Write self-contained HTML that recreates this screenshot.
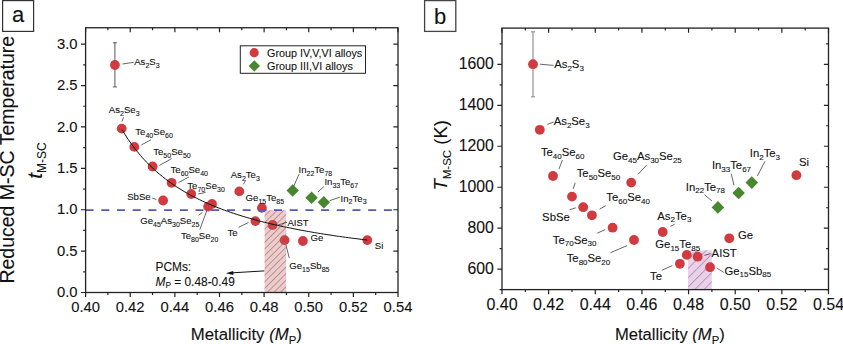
<!DOCTYPE html><html><head><meta charset="utf-8"><style>html,body{margin:0;padding:0;background:#fff;width:843px;height:344px;overflow:hidden}svg{display:block;font-family:"Liberation Sans",sans-serif}text{fill:#111;stroke:#111;stroke-width:0.1px}</style></head><body>
<svg width="843" height="344" viewBox="0 0 843 344">
<defs><pattern id="ha" patternUnits="userSpaceOnUse" width="4.65" height="4.65" patternTransform="rotate(45)"><line x1="0.5" y1="0" x2="0.5" y2="4.65" stroke="#857070" stroke-width="0.6"/></pattern><pattern id="hb" patternUnits="userSpaceOnUse" width="6.5" height="6.5" patternTransform="rotate(45)"><line x1="0.5" y1="0" x2="0.5" y2="6.5" stroke="#9a88aa" stroke-width="0.7"/></pattern></defs>
<rect x="2.6" y="0.6" width="31" height="30.8" fill="#fff" stroke="#333" stroke-width="1.2"/>
<text x="18" y="22" font-size="22" text-anchor="middle">a</text>
<line x1="114.9" y1="42.8" x2="114.9" y2="86.9" stroke="#666" stroke-width="1.1"/>
<line x1="112.9" y1="42.8" x2="116.9" y2="42.8" stroke="#666" stroke-width="1.1"/>
<line x1="112.9" y1="86.9" x2="116.9" y2="86.9" stroke="#666" stroke-width="1.1"/>
<rect x="264.6" y="210.2" width="21.6" height="82.30000000000001" fill="#f0cbcb"/>
<circle cx="114.9" cy="65" r="4.9" fill="#d13b3f"/>
<circle cx="121.7" cy="128.6" r="4.9" fill="#d13b3f"/>
<circle cx="134.3" cy="146.9" r="4.9" fill="#d13b3f"/>
<circle cx="152.6" cy="166.5" r="4.9" fill="#d13b3f"/>
<circle cx="171.6" cy="182.8" r="4.9" fill="#d13b3f"/>
<circle cx="191.2" cy="194" r="4.9" fill="#d13b3f"/>
<circle cx="163.1" cy="200.5" r="4.9" fill="#d13b3f"/>
<circle cx="212" cy="204" r="4.9" fill="#d13b3f"/>
<circle cx="208.1" cy="206.6" r="4.9" fill="#d13b3f"/>
<circle cx="239.3" cy="191.4" r="4.9" fill="#d13b3f"/>
<circle cx="261.9" cy="207.9" r="4.9" fill="#d13b3f"/>
<circle cx="255.4" cy="221.1" r="4.9" fill="#d13b3f"/>
<circle cx="272.6" cy="225" r="4.9" fill="#d13b3f"/>
<circle cx="284.6" cy="240.1" r="4.9" fill="#d13b3f"/>
<circle cx="302.9" cy="241" r="4.9" fill="#d13b3f"/>
<circle cx="367.3" cy="240.1" r="4.9" fill="#d13b3f"/>
<path d="M292.7 184.3L298.9 190.5L292.7 196.7L286.5 190.5Z" fill="#488730"/>
<path d="M311.6 191.60000000000002L317.8 197.8L311.6 204.0L305.40000000000003 197.8Z" fill="#488730"/>
<path d="M323.8 196.0L330.0 202.2L323.8 208.39999999999998L317.6 202.2Z" fill="#488730"/>
<rect x="264.6" y="210.2" width="21.6" height="82.30000000000001" fill="url(#ha)"/>
<polyline points="122.0,129.6 125.1,134.7 128.2,139.4 131.3,143.8 134.4,148.0 137.5,151.9 140.6,155.6 143.7,159.1 146.8,162.4 149.9,165.5 153.1,168.5 156.2,171.3 159.3,174.0 162.4,176.5 165.5,179.0 168.6,181.3 171.7,183.5 174.8,185.6 177.9,187.7 181.0,189.6 184.1,191.5 187.2,193.2 190.3,195.0 193.4,196.6 196.5,198.2 199.6,199.7 202.7,201.2 205.8,202.6 208.9,204.0 212.0,205.3 215.2,206.6 218.3,207.8 221.4,209.0 224.5,210.2 227.6,211.3 230.7,212.4 233.8,213.4 236.9,214.4 240.0,215.4 243.1,216.4 246.2,217.3 249.3,218.2 252.4,219.1 255.5,219.9 258.6,220.8 261.7,221.6 264.8,222.3 267.9,223.1 271.0,223.9 274.1,224.6 277.3,225.3 280.4,226.0 283.5,226.7 286.6,227.3 289.7,227.9 292.8,228.6 295.9,229.2 299.0,229.8 302.1,230.4 305.2,230.9 308.3,231.5 311.4,232.0 314.5,232.6 317.6,233.1 320.7,233.6 323.8,234.1 326.9,234.6 330.0,235.0 333.1,235.5 336.2,236.0 339.4,236.4 342.5,236.9 345.6,237.3 348.7,237.7 351.8,238.1 354.9,238.5 358.0,238.9 361.1,239.3 364.2,239.7 367.3,240.1" fill="none" stroke="#111" stroke-width="1.0"/>
<line x1="85.6" y1="210.1" x2="398.0" y2="210.1" stroke="#5558b8" stroke-width="1.6" stroke-dasharray="8 7.7"/>
<line x1="122.5" y1="64" x2="133.7" y2="62.3" stroke="#333" stroke-width="0.75"/>
<line x1="122" y1="121.5" x2="123.5" y2="117.4" stroke="#333" stroke-width="0.75"/>
<line x1="141.4" y1="144.9" x2="151" y2="139.8" stroke="#333" stroke-width="0.75"/>
<line x1="159.3" y1="165.5" x2="171.6" y2="158.7" stroke="#333" stroke-width="0.75"/>
<line x1="178.7" y1="182.4" x2="188.9" y2="177" stroke="#333" stroke-width="0.75"/>
<line x1="198.1" y1="194" x2="205.6" y2="192.4" stroke="#333" stroke-width="0.75"/>
<line x1="152.2" y1="198" x2="156.3" y2="199.5" stroke="#333" stroke-width="0.75"/>
<line x1="198.5" y1="215.3" x2="202.4" y2="212.5" stroke="#333" stroke-width="0.75"/>
<line x1="199.8" y1="229.5" x2="206.7" y2="211" stroke="#333" stroke-width="0.75"/>
<line x1="243.3" y1="184.4" x2="245.6" y2="180.5" stroke="#333" stroke-width="0.75"/>
<line x1="238.7" y1="227.3" x2="248.5" y2="222.5" stroke="#333" stroke-width="0.75"/>
<line x1="277.7" y1="225.1" x2="287" y2="222.3" stroke="#333" stroke-width="0.75"/>
<line x1="285.9" y1="244.6" x2="289.3" y2="258.1" stroke="#333" stroke-width="0.75"/>
<line x1="293.8" y1="186.2" x2="299.1" y2="174" stroke="#333" stroke-width="0.75"/>
<line x1="318" y1="192" x2="323.8" y2="186.7" stroke="#333" stroke-width="0.75"/>
<line x1="329.6" y1="200.7" x2="339.8" y2="197.2" stroke="#333" stroke-width="0.75"/>
<line x1="264.4" y1="270.9" x2="231" y2="272.9" stroke="#111" stroke-width="1"/>
<path d="M225.9 273.3 L233.2 270.9 L233.4 275.1 Z" fill="#111"/>
<text x="134.2" y="64.8" font-size="9.6"><tspan font-size="9.6">As</tspan><tspan font-size="7.0" dy="2.8">2</tspan><tspan font-size="9.6" dy="-2.8">S</tspan><tspan font-size="7.0" dy="2.8">3</tspan></text>
<text x="108.8" y="112.9" font-size="9.6"><tspan font-size="9.6">As</tspan><tspan font-size="7.0" dy="2.8">2</tspan><tspan font-size="9.6" dy="-2.8">Se</tspan><tspan font-size="7.0" dy="2.8">3</tspan></text>
<text x="135.3" y="134.7" font-size="9.6"><tspan font-size="9.6">Te</tspan><tspan font-size="7.0" dy="2.8">40</tspan><tspan font-size="9.6" dy="-2.8">Se</tspan><tspan font-size="7.0" dy="2.8">60</tspan></text>
<text x="153.2" y="155.3" font-size="9.6"><tspan font-size="9.6">Te</tspan><tspan font-size="7.0" dy="2.8">50</tspan><tspan font-size="9.6" dy="-2.8">Se</tspan><tspan font-size="7.0" dy="2.8">50</tspan></text>
<text x="170.5" y="173.2" font-size="9.6"><tspan font-size="9.6">Te</tspan><tspan font-size="7.0" dy="2.8">60</tspan><tspan font-size="9.6" dy="-2.8">Se</tspan><tspan font-size="7.0" dy="2.8">40</tspan></text>
<text x="187.3" y="188.9" font-size="9.6"><tspan font-size="9.6">Te</tspan><tspan font-size="7.0" dy="2.8">70</tspan><tspan font-size="9.6" dy="-2.8">Se</tspan><tspan font-size="7.0" dy="2.8">30</tspan></text>
<text x="127.2" y="200.4" font-size="9.6"><tspan font-size="9.6">SbSe</tspan></text>
<text x="140.2" y="224.2" font-size="9.6"><tspan font-size="9.6">Ge</tspan><tspan font-size="7.0" dy="2.8">45</tspan><tspan font-size="9.6" dy="-2.8">As</tspan><tspan font-size="7.0" dy="2.8">30</tspan><tspan font-size="9.6" dy="-2.8">Se</tspan><tspan font-size="7.0" dy="2.8">25</tspan></text>
<text x="180.9" y="239.3" font-size="9.6"><tspan font-size="9.6">Te</tspan><tspan font-size="7.0" dy="2.8">80</tspan><tspan font-size="9.6" dy="-2.8">Se</tspan><tspan font-size="7.0" dy="2.8">20</tspan></text>
<text x="230.7" y="178.1" font-size="9.6"><tspan font-size="9.6">As</tspan><tspan font-size="7.0" dy="2.8">2</tspan><tspan font-size="9.6" dy="-2.8">Te</tspan><tspan font-size="7.0" dy="2.8">3</tspan></text>
<text x="245.6" y="201.4" font-size="9.6"><tspan font-size="9.6">Ge</tspan><tspan font-size="7.0" dy="2.8">15</tspan><tspan font-size="9.6" dy="-2.8">Te</tspan><tspan font-size="7.0" dy="2.8">85</tspan></text>
<text x="227.5" y="236.3" font-size="9.6"><tspan font-size="9.6">Te</tspan></text>
<text x="287.4" y="226.3" font-size="9.6"><tspan font-size="9.6">AIST</tspan></text>
<text x="310.5" y="240.6" font-size="9.6"><tspan font-size="9.6">Ge</tspan></text>
<text x="374.8" y="248.7" font-size="9.6"><tspan font-size="9.6">Si</tspan></text>
<text x="289.3" y="268.7" font-size="9.6"><tspan font-size="9.6">Ge</tspan><tspan font-size="7.0" dy="2.8">15</tspan><tspan font-size="9.6" dy="-2.8">Sb</tspan><tspan font-size="7.0" dy="2.8">85</tspan></text>
<text x="298.5" y="173.1" font-size="9.6"><tspan font-size="9.6">In</tspan><tspan font-size="7.0" dy="2.8">22</tspan><tspan font-size="9.6" dy="-2.8">Te</tspan><tspan font-size="7.0" dy="2.8">78</tspan></text>
<text x="324.4" y="184.7" font-size="9.6"><tspan font-size="9.6">In</tspan><tspan font-size="7.0" dy="2.8">33</tspan><tspan font-size="9.6" dy="-2.8">Te</tspan><tspan font-size="7.0" dy="2.8">67</tspan></text>
<text x="340.6" y="201.6" font-size="9.6"><tspan font-size="9.6">In</tspan><tspan font-size="7.0" dy="2.8">2</tspan><tspan font-size="9.6" dy="-2.8">Te</tspan><tspan font-size="7.0" dy="2.8">3</tspan></text>
<text x="155.5" y="271.3" font-size="11.9">PCMs:</text>
<text x="155.5" y="285.9" font-size="11.9"><tspan font-style="italic">M</tspan><tspan font-size="8.3" dy="2.5">P</tspan><tspan dy="-2.5"> = 0.48-0.49</tspan></text>
<rect x="240.3" y="45.8" width="125.2" height="27.5" fill="#fff" stroke="#222" stroke-width="1"/>
<circle cx="254.2" cy="52.7" r="4.6" fill="#d13b3f"/>
<path d="M254.3 60.2L260.0 65.9L254.3 71.60000000000001L248.60000000000002 65.9Z" fill="#488730"/>
<text x="267" y="56.5" font-size="10.8">Group IV,V,VI alloys</text>
<text x="267" y="70.1" font-size="10.8">Group III,VI alloys</text>
<rect x="85.6" y="27.75" width="312.4" height="264.75" fill="none" stroke="#222" stroke-width="1.3"/>
<path d="M85.60 292.5v4.6M85.60 27.75v4.6M107.91 292.5v2.4M107.91 27.75v2.4M130.23 292.5v4.6M130.23 27.75v4.6M152.54 292.5v2.4M152.54 27.75v2.4M174.86 292.5v4.6M174.86 27.75v4.6M197.17 292.5v2.4M197.17 27.75v2.4M219.49 292.5v4.6M219.49 27.75v4.6M241.80 292.5v2.4M241.80 27.75v2.4M264.11 292.5v4.6M264.11 27.75v4.6M286.43 292.5v2.4M286.43 27.75v2.4M308.74 292.5v4.6M308.74 27.75v4.6M331.06 292.5v2.4M331.06 27.75v2.4M353.37 292.5v4.6M353.37 27.75v4.6M375.69 292.5v2.4M375.69 27.75v2.4M398.00 292.5v4.6M398.00 27.75v4.6M85.6 292.50h-4.6M398.0 292.50h-4.6M85.6 271.81h-2.4M398.0 271.81h-2.4M85.6 251.12h-4.6M398.0 251.12h-4.6M85.6 230.42h-2.4M398.0 230.42h-2.4M85.6 209.73h-4.6M398.0 209.73h-4.6M85.6 189.04h-2.4M398.0 189.04h-2.4M85.6 168.34h-4.6M398.0 168.34h-4.6M85.6 147.65h-2.4M398.0 147.65h-2.4M85.6 126.96h-4.6M398.0 126.96h-4.6M85.6 106.27h-2.4M398.0 106.27h-2.4M85.6 85.58h-4.6M398.0 85.58h-4.6M85.6 64.88h-2.4M398.0 64.88h-2.4M85.6 44.19h-4.6M398.0 44.19h-4.6" stroke="#222" stroke-width="1.2" fill="none"/>
<text x="85.6" y="312" font-size="14.8" text-anchor="middle">0.40</text>
<text x="130.2" y="312" font-size="14.8" text-anchor="middle">0.42</text>
<text x="174.9" y="312" font-size="14.8" text-anchor="middle">0.44</text>
<text x="219.5" y="312" font-size="14.8" text-anchor="middle">0.46</text>
<text x="264.1" y="312" font-size="14.8" text-anchor="middle">0.48</text>
<text x="308.7" y="312" font-size="14.8" text-anchor="middle">0.50</text>
<text x="353.4" y="312" font-size="14.8" text-anchor="middle">0.52</text>
<text x="398.0" y="312" font-size="14.8" text-anchor="middle">0.54</text>
<text x="77.6" y="297.1" font-size="14.8" text-anchor="end">0.0</text>
<text x="77.6" y="255.7" font-size="14.8" text-anchor="end">0.5</text>
<text x="77.6" y="214.3" font-size="14.8" text-anchor="end">1.0</text>
<text x="77.6" y="172.9" font-size="14.8" text-anchor="end">1.5</text>
<text x="77.6" y="131.6" font-size="14.8" text-anchor="end">2.0</text>
<text x="77.6" y="90.2" font-size="14.8" text-anchor="end">2.5</text>
<text x="77.6" y="48.8" font-size="14.8" text-anchor="end">3.0</text>
<text x="190.8" y="339.6" font-size="16.8">Metallicity <tspan font-style="italic">(M</tspan><tspan font-size="11.4" dy="4.2">P</tspan><tspan dy="-4.2">)</tspan></text>
<text transform="translate(14,159.7) rotate(-90)" font-size="19.5" text-anchor="middle">Reduced M-SC Temperature</text>
<text transform="translate(41.8,160.5) rotate(-90)" font-size="21" text-anchor="middle"><tspan font-style="italic">t</tspan><tspan font-size="12" dy="4.1">M-SC</tspan></text>
<rect x="424.6" y="0.6" width="31.2" height="30.8" fill="#fff" stroke="#444" stroke-width="1.3"/>
<text x="440" y="24.2" font-size="22" text-anchor="middle">b</text>
<line x1="533" y1="31.8" x2="533" y2="96.8" stroke="#9a9a9a" stroke-width="1.3"/>
<line x1="531" y1="31.8" x2="535" y2="31.8" stroke="#9a9a9a" stroke-width="1.3"/>
<line x1="531" y1="96.8" x2="535" y2="96.8" stroke="#9a9a9a" stroke-width="1.3"/>
<rect x="688.1" y="250.3" width="23.7" height="39.30000000000001" fill="#eccfe8"/>
<rect x="688.1" y="250.3" width="23.7" height="39.30000000000001" fill="url(#hb)"/>
<circle cx="533" cy="64.2" r="4.9" fill="#d13b3f"/>
<circle cx="539.8" cy="129.8" r="4.9" fill="#d13b3f"/>
<circle cx="553" cy="176" r="4.9" fill="#d13b3f"/>
<circle cx="572" cy="196.6" r="4.9" fill="#d13b3f"/>
<circle cx="583.2" cy="207.2" r="4.9" fill="#d13b3f"/>
<circle cx="591.9" cy="215.3" r="4.9" fill="#d13b3f"/>
<circle cx="612.6" cy="227.7" r="4.9" fill="#d13b3f"/>
<circle cx="631.2" cy="182.6" r="4.9" fill="#d13b3f"/>
<circle cx="634" cy="240" r="4.9" fill="#d13b3f"/>
<circle cx="662.7" cy="232" r="4.9" fill="#d13b3f"/>
<circle cx="679.9" cy="263.8" r="4.9" fill="#d13b3f"/>
<circle cx="686.8" cy="254.9" r="4.9" fill="#d13b3f"/>
<circle cx="697.7" cy="256.7" r="4.9" fill="#d13b3f"/>
<circle cx="710.1" cy="267.2" r="4.9" fill="#d13b3f"/>
<circle cx="729.3" cy="238.3" r="4.9" fill="#d13b3f"/>
<circle cx="796.4" cy="175.2" r="4.9" fill="#d13b3f"/>
<path d="M717.9 201.1L724.1999999999999 207.4L717.9 213.70000000000002L711.6 207.4Z" fill="#488730"/>
<path d="M738.6 186.7L744.9 193L738.6 199.3L732.3000000000001 193Z" fill="#488730"/>
<path d="M751.8 176.29999999999998L758.0999999999999 182.6L751.8 188.9L745.5 182.6Z" fill="#488730"/>
<line x1="540" y1="64.2" x2="553.5" y2="65.4" stroke="#333" stroke-width="0.75"/>
<line x1="547.2" y1="124.4" x2="553.7" y2="122" stroke="#333" stroke-width="0.75"/>
<line x1="559" y1="169.1" x2="562.4" y2="160" stroke="#333" stroke-width="0.75"/>
<line x1="573.2" y1="188.9" x2="575.2" y2="182.8" stroke="#333" stroke-width="0.75"/>
<line x1="569.6" y1="209.8" x2="575.7" y2="207.8" stroke="#333" stroke-width="0.75"/>
<line x1="599.6" y1="209.2" x2="605.7" y2="205.7" stroke="#333" stroke-width="0.75"/>
<line x1="638.1" y1="174.3" x2="646.6" y2="165.1" stroke="#333" stroke-width="0.75"/>
<line x1="597.2" y1="233.2" x2="605.1" y2="229.6" stroke="#333" stroke-width="0.75"/>
<line x1="610.5" y1="252.7" x2="627.1" y2="245.6" stroke="#333" stroke-width="0.75"/>
<line x1="670.3" y1="226.4" x2="674.5" y2="224.3" stroke="#333" stroke-width="0.75"/>
<line x1="662.1" y1="270.2" x2="672.4" y2="265.5" stroke="#333" stroke-width="0.75"/>
<line x1="704.4" y1="255.4" x2="710.5" y2="253.6" stroke="#333" stroke-width="0.75"/>
<line x1="716.7" y1="267.9" x2="723.8" y2="272.5" stroke="#333" stroke-width="0.75"/>
<line x1="704.4" y1="194.7" x2="711.9" y2="200.9" stroke="#333" stroke-width="0.75"/>
<line x1="731.2" y1="173.7" x2="734" y2="185.3" stroke="#333" stroke-width="0.75"/>
<line x1="764.9" y1="161.4" x2="757.4" y2="176" stroke="#333" stroke-width="0.75"/>
<text x="554.2" y="68.4" font-size="11.3"><tspan font-size="11.3">As</tspan><tspan font-size="8.0" dy="2.7">2</tspan><tspan font-size="11.3" dy="-2.7">S</tspan><tspan font-size="8.0" dy="2.7">3</tspan></text>
<text x="553.7" y="125.1" font-size="11.3"><tspan font-size="11.3">As</tspan><tspan font-size="8.0" dy="2.7">2</tspan><tspan font-size="11.3" dy="-2.7">Se</tspan><tspan font-size="8.0" dy="2.7">3</tspan></text>
<text x="540.9" y="155.8" font-size="11.3"><tspan font-size="11.3">Te</tspan><tspan font-size="8.0" dy="2.7">40</tspan><tspan font-size="11.3" dy="-2.7">Se</tspan><tspan font-size="8.0" dy="2.7">60</tspan></text>
<text x="576.7" y="177.3" font-size="11.3"><tspan font-size="11.3">Te</tspan><tspan font-size="8.0" dy="2.7">50</tspan><tspan font-size="11.3" dy="-2.7">Se</tspan><tspan font-size="8.0" dy="2.7">50</tspan></text>
<text x="542.1" y="220.6" font-size="11.3"><tspan font-size="11.3">SbSe</tspan></text>
<text x="606.3" y="201" font-size="11.3"><tspan font-size="11.3">Te</tspan><tspan font-size="8.0" dy="2.7">60</tspan><tspan font-size="11.3" dy="-2.7">Se</tspan><tspan font-size="8.0" dy="2.7">40</tspan></text>
<text x="613" y="159.9" font-size="11.3"><tspan font-size="11.3">Ge</tspan><tspan font-size="8.0" dy="2.7">45</tspan><tspan font-size="11.3" dy="-2.7">As</tspan><tspan font-size="8.0" dy="2.7">30</tspan><tspan font-size="11.3" dy="-2.7">Se</tspan><tspan font-size="8.0" dy="2.7">25</tspan></text>
<text x="552.8" y="243.5" font-size="11.3"><tspan font-size="11.3">Te</tspan><tspan font-size="8.0" dy="2.7">70</tspan><tspan font-size="11.3" dy="-2.7">Se</tspan><tspan font-size="8.0" dy="2.7">30</tspan></text>
<text x="566.7" y="262.3" font-size="11.3"><tspan font-size="11.3">Te</tspan><tspan font-size="8.0" dy="2.7">80</tspan><tspan font-size="11.3" dy="-2.7">Se</tspan><tspan font-size="8.0" dy="2.7">20</tspan></text>
<text x="657.3" y="219.5" font-size="11.3"><tspan font-size="11.3">As</tspan><tspan font-size="8.0" dy="2.7">2</tspan><tspan font-size="11.3" dy="-2.7">Te</tspan><tspan font-size="8.0" dy="2.7">3</tspan></text>
<text x="655.3" y="247.8" font-size="11.3"><tspan font-size="11.3">Ge</tspan><tspan font-size="8.0" dy="2.7">15</tspan><tspan font-size="11.3" dy="-2.7">Te</tspan><tspan font-size="8.0" dy="2.7">85</tspan></text>
<text x="650" y="279.8" font-size="11.3"><tspan font-size="11.3">Te</tspan></text>
<text x="711.6" y="257.3" font-size="11.3"><tspan font-size="11.3">AIST</tspan></text>
<text x="738" y="239.3" font-size="11.3"><tspan font-size="11.3">Ge</tspan></text>
<text x="799" y="165.6" font-size="11.3"><tspan font-size="11.3">Si</tspan></text>
<text x="724.4" y="274.6" font-size="11.3"><tspan font-size="11.3">Ge</tspan><tspan font-size="8.0" dy="2.7">15</tspan><tspan font-size="11.3" dy="-2.7">Sb</tspan><tspan font-size="8.0" dy="2.7">85</tspan></text>
<text x="685.8" y="190.7" font-size="11.3"><tspan font-size="11.3">In</tspan><tspan font-size="8.0" dy="2.7">22</tspan><tspan font-size="11.3" dy="-2.7">Te</tspan><tspan font-size="8.0" dy="2.7">78</tspan></text>
<text x="711.9" y="169" font-size="11.3"><tspan font-size="11.3">In</tspan><tspan font-size="8.0" dy="2.7">33</tspan><tspan font-size="11.3" dy="-2.7">Te</tspan><tspan font-size="8.0" dy="2.7">67</tspan></text>
<text x="749.8" y="157.4" font-size="11.3"><tspan font-size="11.3">In</tspan><tspan font-size="8.0" dy="2.7">2</tspan><tspan font-size="11.3" dy="-2.7">Te</tspan><tspan font-size="8.0" dy="2.7">3</tspan></text>
<rect x="502.0" y="28.1" width="326.5" height="261.5" fill="none" stroke="#222" stroke-width="1.3"/>
<path d="M502.00 289.6v4.6M502.00 28.1v4.6M525.32 289.6v2.4M525.32 28.1v2.4M548.64 289.6v4.6M548.64 28.1v4.6M571.96 289.6v2.4M571.96 28.1v2.4M595.29 289.6v4.6M595.29 28.1v4.6M618.61 289.6v2.4M618.61 28.1v2.4M641.93 289.6v4.6M641.93 28.1v4.6M665.25 289.6v2.4M665.25 28.1v2.4M688.57 289.6v4.6M688.57 28.1v4.6M711.89 289.6v2.4M711.89 28.1v2.4M735.21 289.6v4.6M735.21 28.1v4.6M758.54 289.6v2.4M758.54 28.1v2.4M781.86 289.6v4.6M781.86 28.1v4.6M805.18 289.6v2.4M805.18 28.1v2.4M828.50 289.6v4.6M828.50 28.1v4.6M502.0 289.69h-2.4M828.5 289.69h-2.4M502.0 269.20h-4.6M828.5 269.20h-4.6M502.0 248.71h-2.4M828.5 248.71h-2.4M502.0 228.22h-4.6M828.5 228.22h-4.6M502.0 207.73h-2.4M828.5 207.73h-2.4M502.0 187.24h-4.6M828.5 187.24h-4.6M502.0 166.75h-2.4M828.5 166.75h-2.4M502.0 146.26h-4.6M828.5 146.26h-4.6M502.0 125.77h-2.4M828.5 125.77h-2.4M502.0 105.28h-4.6M828.5 105.28h-4.6M502.0 84.79h-2.4M828.5 84.79h-2.4M502.0 64.30h-4.6M828.5 64.30h-4.6M502.0 43.81h-2.4M828.5 43.81h-2.4" stroke="#222" stroke-width="1.2" fill="none"/>
<text x="502.0" y="310" font-size="16" text-anchor="middle">0.40</text>
<text x="548.6" y="310" font-size="16" text-anchor="middle">0.42</text>
<text x="595.3" y="310" font-size="16" text-anchor="middle">0.44</text>
<text x="641.9" y="310" font-size="16" text-anchor="middle">0.46</text>
<text x="688.6" y="310" font-size="16" text-anchor="middle">0.48</text>
<text x="735.2" y="310" font-size="16" text-anchor="middle">0.50</text>
<text x="781.9" y="310" font-size="16" text-anchor="middle">0.52</text>
<text x="828.5" y="310" font-size="16" text-anchor="middle">0.54</text>
<text x="493.8" y="274.2" font-size="15.8" text-anchor="end">600</text>
<text x="493.8" y="233.2" font-size="15.8" text-anchor="end">800</text>
<text x="493.8" y="192.2" font-size="15.8" text-anchor="end">1000</text>
<text x="493.8" y="151.3" font-size="15.8" text-anchor="end">1200</text>
<text x="493.8" y="110.3" font-size="15.8" text-anchor="end">1400</text>
<text x="493.8" y="69.3" font-size="15.8" text-anchor="end">1600</text>
<text x="614.9" y="339.6" font-size="16.6">Metallicity <tspan font-style="italic">(M</tspan><tspan font-size="11.3" dy="4.2">P</tspan><tspan dy="-4.2">)</tspan></text>
<text transform="translate(446.7,155.3) rotate(-90)" font-size="18.5" text-anchor="middle"><tspan font-style="italic">T</tspan><tspan font-size="11.5" dy="4.5">M-SC</tspan><tspan dy="-4.5"> (K)</tspan></text>
</svg></body></html>
